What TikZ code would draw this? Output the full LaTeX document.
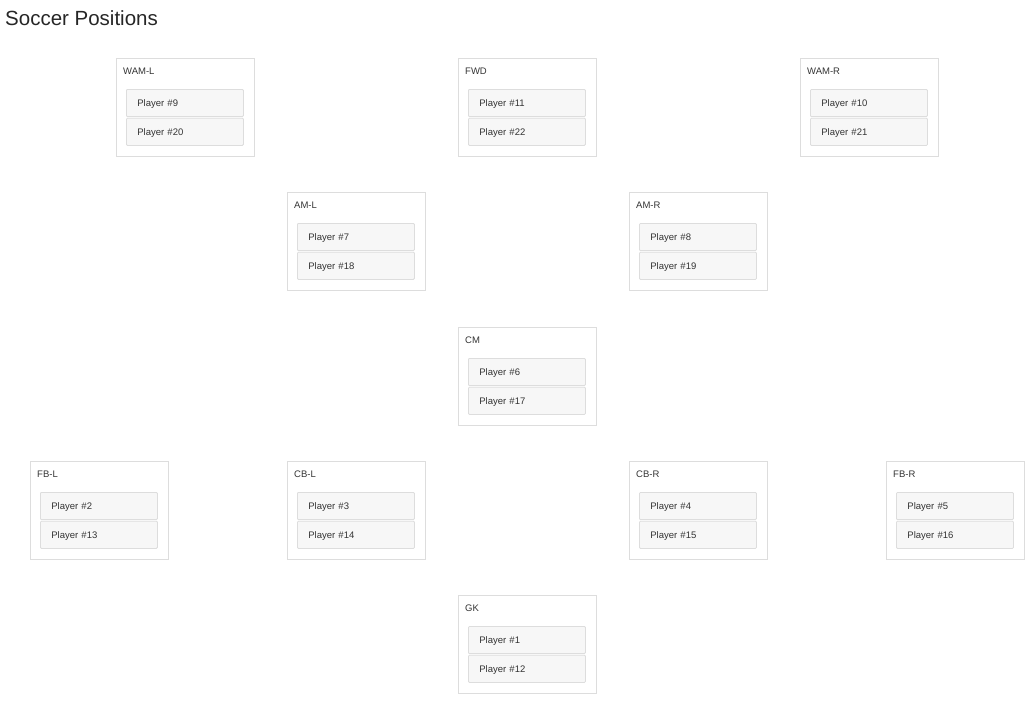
\documentclass[tikz,border=0pt]{standalone}
\usepackage{fontspec}
\setmainfont{Liberation Sans}
\usetikzlibrary{positioning}
\definecolor{boxgray}{HTML}{DDDDDD}
\definecolor{cardfill}{HTML}{F7F7F7}
\definecolor{inkgray}{HTML}{333333}
\begin{document}
\begin{tikzpicture} [
    x = 1pt, y = -1pt,
    inner sep = 0,
    font = \fontsize{9.5}{11}\selectfont,
    text = inkgray,
    position/.style = { draw = boxgray, line width = 0.8pt, anchor = north west, minimum width = 138pt, minimum height = 98pt },
    player/.style = { draw = boxgray, fill = cardfill, line width = 0.8pt, rounded corners = 1pt, inner xsep = 11pt, text width = 95pt, align = left, text depth = 0pt, minimum height = 27.2pt }
    ]

    \useasboundingbox (0,0) rectangle (1035,726);
    \node [anchor = base west, font = \fontsize{20.5}{24}\selectfont, text = black!85] (title) at (5,25) {Soccer Positions};

    \foreach \name/\pos/\x/\y/\first/\second in {
        wamL/WAM-L/116/58/9/20, fwd/FWD/458/58/11/22, wamR/WAM-R/800/58/10/21,
        amL/AM-L/287/192/7/18, amR/AM-R/629/192/8/19,
        cm/CM/458/327/6/17,
        fbL/FB-L/30/461/2/13, cbL/CB-L/287/461/3/14, cbR/CB-R/629/461/4/15, fbR/FB-R/886/461/5/16,
        gk/GK/458/595/1/12} {
        \node [position] (\name) at (\x,\y) {};
        \node [anchor = west, xshift = 7pt, yshift = -13pt] (\name-label) at (\name.north west) {\pos};
        \node [player, anchor = north west, xshift = 10pt, yshift = -31pt] (\name-a) at (\name.north west) {Player \#\first};
        \node [player, below = 0.8pt of \name-a] (\name-b) {Player \#\second};
    }

\end{tikzpicture}
\end{document}
